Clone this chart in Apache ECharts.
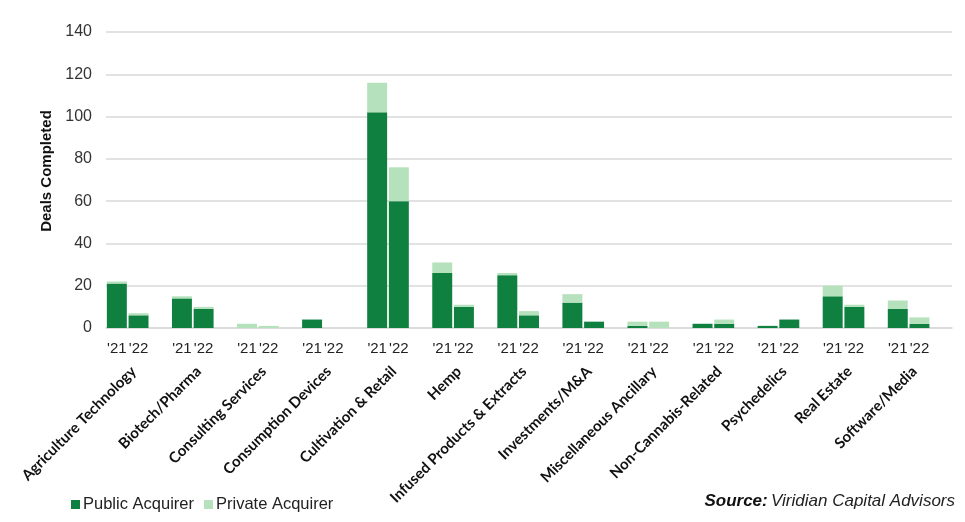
<!DOCTYPE html>
<html>
<head>
<meta charset="utf-8">
<script src="https://cdn.jsdelivr.net/npm/echarts@6/dist/echarts.min.js"></script>
<style>
  html, body { margin: 0; padding: 0; background: #fff; }
  #chart { width: 965px; height: 522px; }
</style>
</head>
<body>
<div id="chart"></div>
<script>
// sector names, one group of bars per sector
var categories = ['Agriculture Technology', 'Biotech/Pharma', 'Consulting Services', 'Consumption Devices',
    'Cultivation & Retail', 'Hemp', 'Infused Products & Extracts', 'Investments/M&A',
    'Miscellaneous Ancillary', 'Non-Cannabis-Related', 'Psychedelics', 'Real Estate', 'Software/Media'];
var years = ["'21", "'22"];

// deals by acquirer type, per year
var public21  = [21, 14, 0, 4, 102, 26, 25, 12, 1, 2, 1, 15, 9];
var private21 = [1, 1, 2, 0, 14, 5, 1, 4, 2, 0, 0, 5, 4];
var public22  = [6, 9, 0, 0, 60, 10, 6, 3, 0, 2, 4, 10, 2];
var private22 = [1, 1, 1, 0, 16, 1, 2, 0, 3, 2, 0, 1, 3];

var yTicks = [0, 20, 40, 60, 80, 100, 120, 140];

// three slots per sector: '21, '22 and an empty spacer
var slots = [], pubData = [], privData = [];
for (var i = 0; i < categories.length; i++) {
    slots.push(years[0], years[1], '');
    pubData.push(public21[i], public22[i], '-');
    privData.push(private21[i], private22[i], '-');
}

var chart = echarts.init(document.getElementById('chart'));

var option = {
    animation: false,
    grid: { left: 106, right: 13, top: 32, bottom: 194 },
    legend: {
        left: 66,
        top: 491,
        itemWidth: 9,
        itemHeight: 9,
        itemGap: 10,
        icon: 'rect',
        textStyle: { fontFamily: 'Liberation Sans', fontSize: 16.5, color: '#222', padding: [0, 0, 0, -2] },
        data: ['Public Acquirer', 'Private Acquirer']
    },
    xAxis: [{
        type: 'category',
        data: slots,
        axisLine: { lineStyle: { color: '#d9d9d9', width: 1.5 } },
        axisTick: { show: false },
        axisLabel: {
            interval: 0,
            margin: 13,
            fontFamily: 'Liberation Sans',
            fontSize: 15,
            color: '#222'
        }
    }, {
        type: 'category',
        data: categories,
        position: 'bottom',
        axisLine: { show: false },
        axisTick: { show: false },
        axisLabel: {
            interval: 0,
            rotate: 45,
            margin: 36,
            padding: [0, 7, 0, 0],
            fontFamily: 'Lato',
            fontWeight: 'bold',
            fontSize: 15,
            color: '#111'
        }
    }],
    yAxis: {
        type: 'value',
        min: yTicks[0],
        max: yTicks[yTicks.length - 1],
        interval: 20,
        name: 'Deals Completed',
        nameLocation: 'middle',
        nameGap: 50,
        nameTextStyle: {
            fontFamily: 'Liberation Sans', fontWeight: 'bold', fontSize: 15, color: '#111',
            padding: [0, 0, 0, 18]
        },
        axisLine: { show: false },
        axisTick: { show: false },
        axisLabel: { margin: 14, fontFamily: 'Liberation Sans', fontSize: 16, color: '#333' },
        splitLine: { lineStyle: { color: '#d9d9d9', width: 1.5 } }
    },
    series: [{
        name: 'Public Acquirer',
        type: 'bar',
        stack: 'deals',
        xAxisIndex: 0,
        barCategoryGap: '8%',
        itemStyle: { color: '#0f8040' },
        data: pubData
    }, {
        name: 'Private Acquirer',
        type: 'bar',
        stack: 'deals',
        xAxisIndex: 0,
        barCategoryGap: '8%',
        itemStyle: { color: '#b5e2bc' },
        data: privData
    }],
    graphic: [{
        type: 'text',
        right: 10,
        top: 493,
        style: {
            text: '{b|Source:} {n|Viridian Capital Advisors}',
            rich: {
                b: { fontFamily: 'Liberation Sans', fontStyle: 'italic', fontWeight: 'bold', fontSize: 17, fill: '#111' },
                n: { fontFamily: 'Liberation Sans', fontStyle: 'italic', fontSize: 17, fill: '#222' }
            }
        }
    }]
};

chart.setOption(option);
</script>
</body>
</html>
